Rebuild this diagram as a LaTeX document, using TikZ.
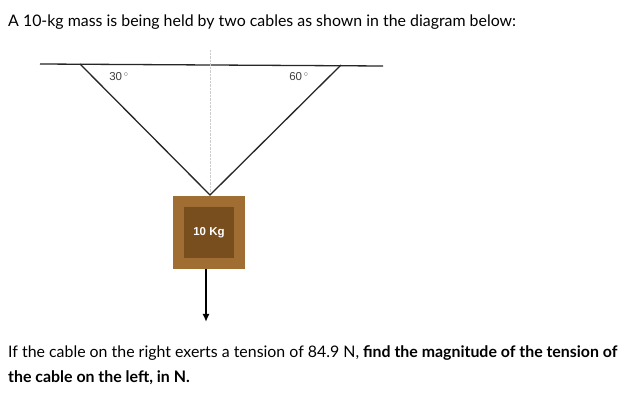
\documentclass[tikz,border=0pt]{standalone}
\usepackage{fontspec}
\setmainfont{Lato}
\setsansfont{Liberation Sans}
\usetikzlibrary{arrows.meta}
\begin{document}
\begin{tikzpicture}[x=1pt,y=-1pt,
  txt/.style={anchor=west,inner sep=0pt,font=\fontsize{15.9}{19}\selectfont},
  ang/.style={inner sep=0pt,font=\sffamily\fontsize{11.5}{13}\selectfont,text=black!75},
  cable/.style={line width=1.3pt,black!85}]
\useasboundingbox[fill=white] (0,0) rectangle (627,403);
\node[txt] (t1) at (8,22) {A 10-kg mass is being held by two cables as shown in the diagram below:};
\node[txt] (t2) at (8,353) {If the cable on the right exerts a tension of 84.9 N, \textbf{find the magnitude of the tension of}};
\node[txt] (t3) at (8,378) {\textbf{the cable on the left, in N.}};
\coordinate (c1) at (40,64);
\coordinate (c2) at (383,66);
\coordinate (L) at (80,64);
\coordinate (R) at (341,65);
\coordinate (A) at (210,195);
\coordinate (d0) at (210,50);
\draw[cable] (c1) -- (c2);
\draw[densely dotted,black!20,line width=0.4pt] (d0) -- (A);
\draw[cable] (L) -- (A) -- (R);
\node[ang] (a30) at (119,77) {30\,$^{\circ}$};
\node[ang] (a60) at (299,77) {60\,$^{\circ}$};
\node[draw=none,fill={rgb,255:red,160;green,110;blue,50},minimum width=72,minimum height=73,inner sep=0pt] (box) at (209,232.5) {};
\node[fill={rgb,255:red,120;green,78;blue,30},minimum width=50,minimum height=51,inner sep=0pt,text=white,font=\sffamily\bfseries\fontsize{11.5}{13}\selectfont] (inner) at (209,232.5) {10 Kg};
\coordinate (s) at (206,269);
\coordinate (e) at (206,322);
\draw[line width=1.6pt,-{Latex[length=8pt,width=7pt]}] (s) -- (e);
\end{tikzpicture}
\end{document}
